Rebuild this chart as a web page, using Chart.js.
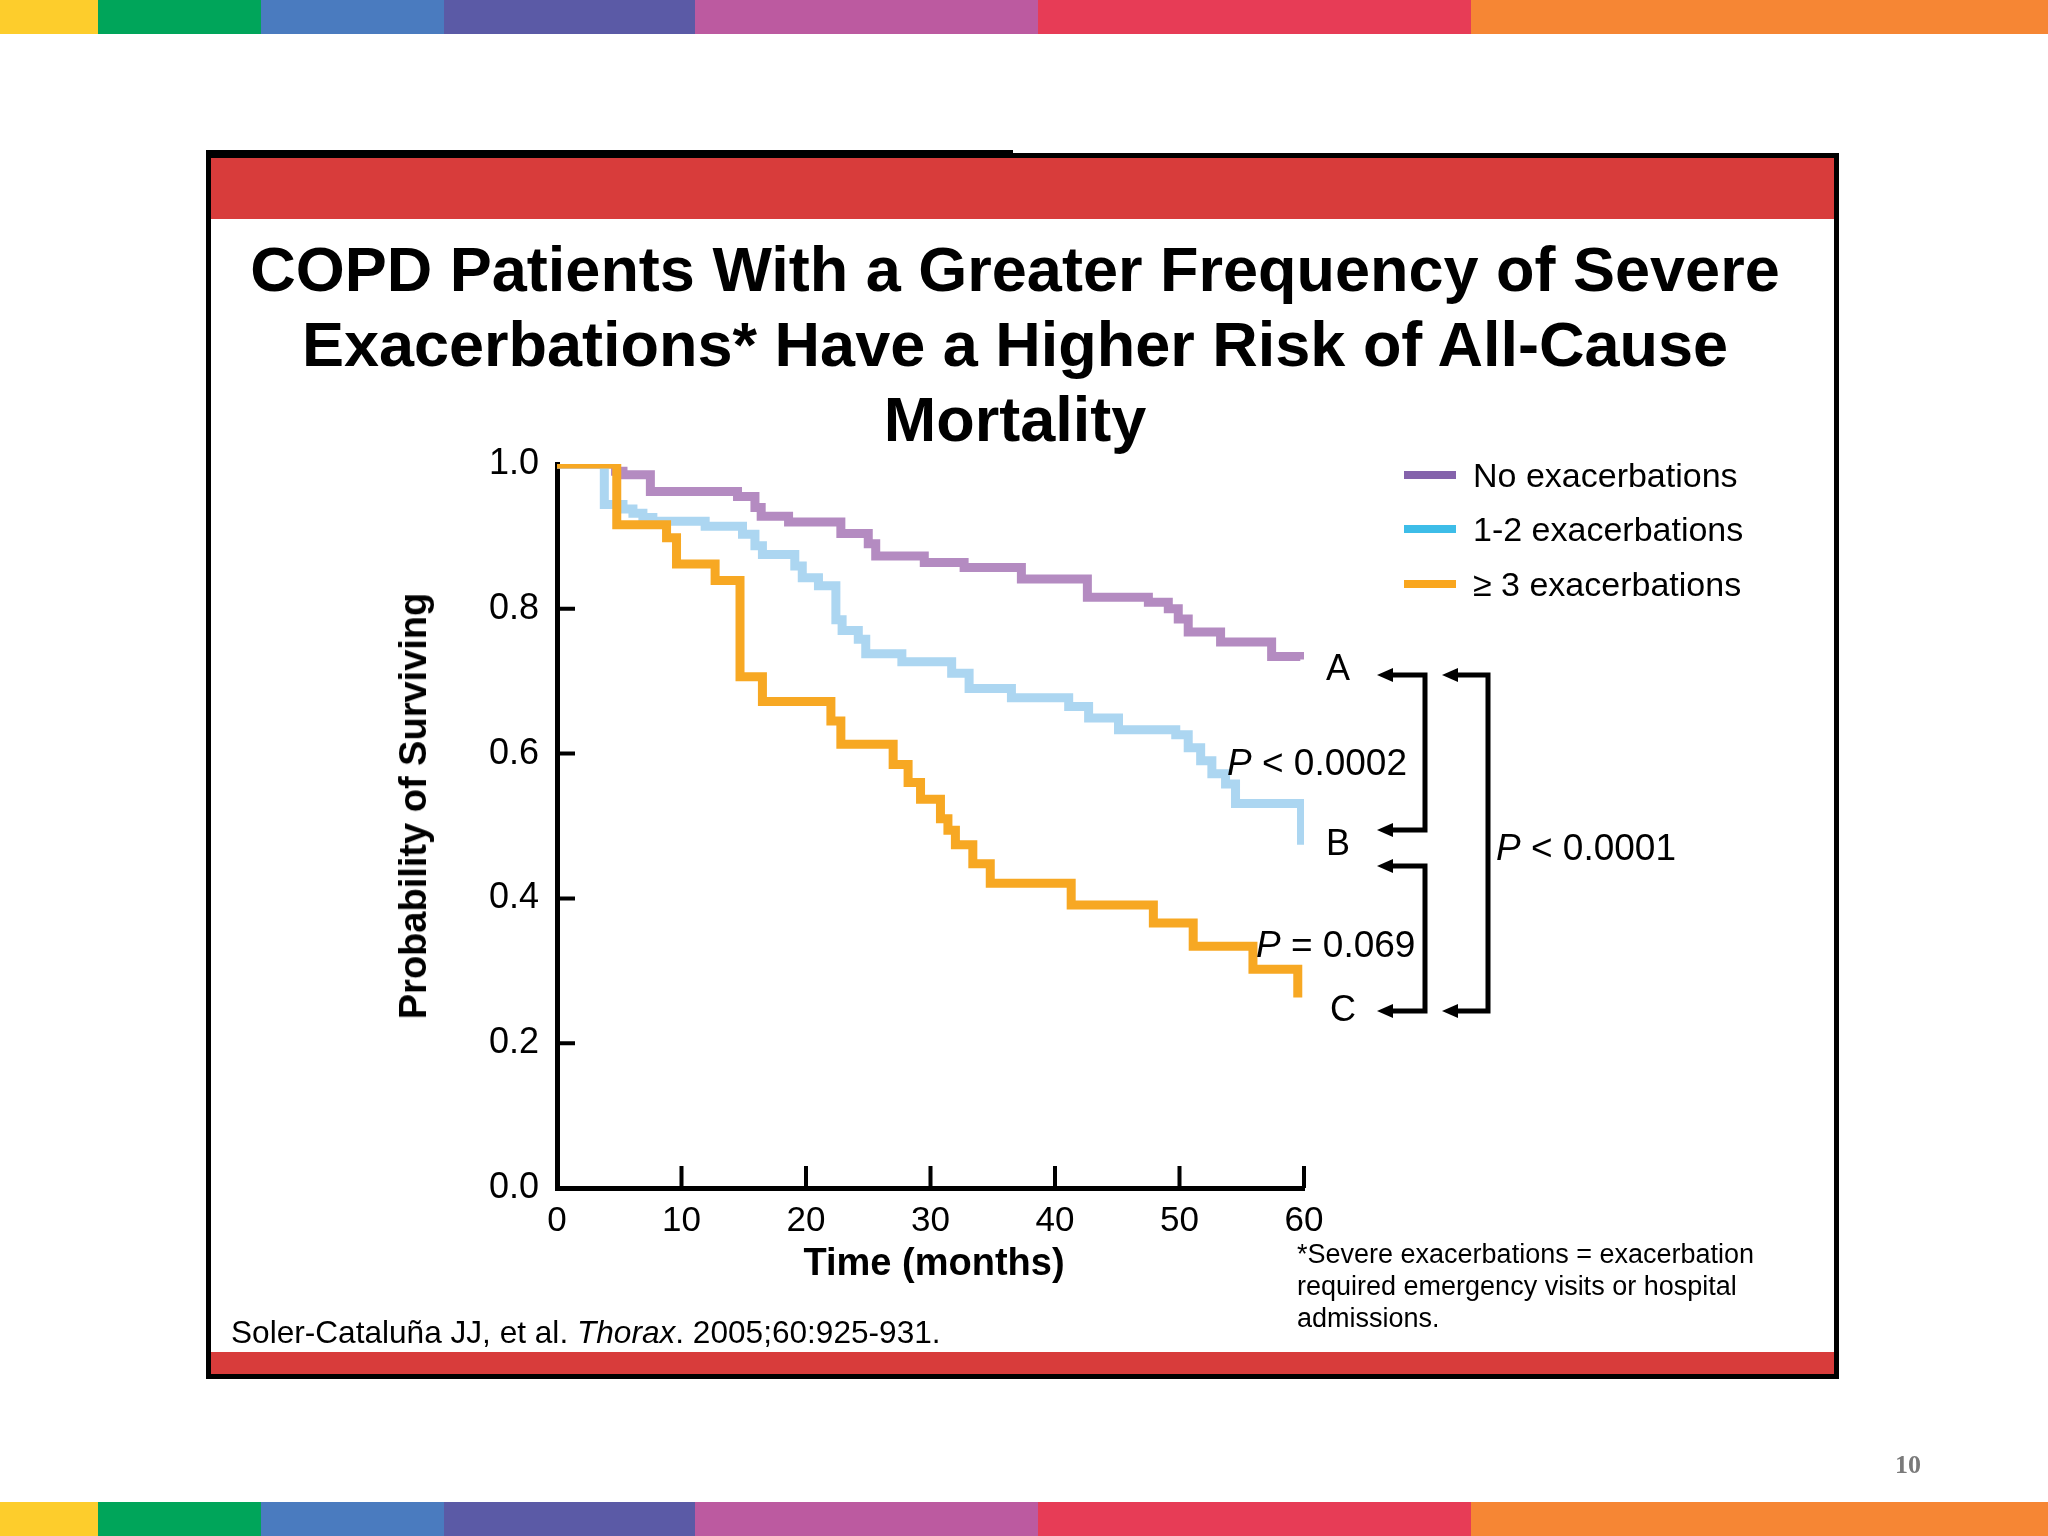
<!DOCTYPE html>
<html>
<head>
<meta charset="utf-8">
<script src="https://cdn.jsdelivr.net/npm/chart.js@4.4.1/dist/chart.umd.min.js"></script>
<style>
  body { margin:0; width:2048px; height:1536px; position:relative; background:#fff; overflow:hidden;
         font-family:"Liberation Sans", Arial, sans-serif; color:#000; }
  .strip { position:absolute; left:0; width:2048px; height:34px; }
  .strip div { position:absolute; top:0; height:34px; }
  #frame { position:absolute; left:206px; top:153px; width:1623px; height:1216px; border:5px solid #000; }
  .redbar { position:absolute; left:211px; width:1623px; background:#d83c3b; }
  #chart { position:absolute; left:0; top:0; }
  .txt { position:absolute; white-space:nowrap; }
  #title { left:200px; top:232px; width:1630px; text-align:center; font-weight:bold; font-size:63px; line-height:75px; }
  #ytitle { left:413px; top:806px; font-weight:bold; font-size:38px; line-height:44px; transform:translate(-50%,-50%) rotate(-90deg); }
  #xtitle { left:934px; top:1262px; font-weight:bold; font-size:38px; line-height:44px; transform:translate(-50%,-50%); }
  .leg { position:absolute; left:1404px; width:52px; height:8px; }
  .legt { position:absolute; left:1473px; font-size:34px; line-height:40px; white-space:nowrap; }
  .lab { font-size:36px; line-height:40px; transform:translate(-50%,-50%); }
  .pv { font-size:37px; line-height:42px; transform:translateY(-50%); }
  #foot { left:1297px; top:1238px; font-size:27px; line-height:32px; }
  #cite { left:231px; top:1314px; font-size:31.6px; line-height:36px; }
  #pg { left:1908px; top:1465px; font-family:"Liberation Serif", serif; font-weight:bold; font-size:26px; color:#7a7a7a; transform:translate(-50%,-50%); }
</style>
</head>
<body>
<div class="strip" style="top:0">
  <div style="left:0;width:98px;background:#fdcd2c"></div>
  <div style="left:98px;width:163px;background:#00a55a"></div>
  <div style="left:261px;width:183px;background:#4a7bbf"></div>
  <div style="left:444px;width:251px;background:#5b5aa6"></div>
  <div style="left:695px;width:343px;background:#bc5aa0"></div>
  <div style="left:1038px;width:433px;background:#e73c56"></div>
  <div style="left:1471px;width:577px;background:#f68634"></div>
</div>
<div class="strip" style="top:1502px">
  <div style="left:0;width:98px;background:#fdcd2c"></div>
  <div style="left:98px;width:163px;background:#00a55a"></div>
  <div style="left:261px;width:183px;background:#4a7bbf"></div>
  <div style="left:444px;width:251px;background:#5b5aa6"></div>
  <div style="left:695px;width:343px;background:#bc5aa0"></div>
  <div style="left:1038px;width:433px;background:#e73c56"></div>
  <div style="left:1471px;width:577px;background:#f68634"></div>
</div>

<div id="frame"></div>
<div style="position:absolute;left:206px;top:150px;width:807px;height:4px;background:#000"></div>
<div class="redbar" style="top:158px;height:61px"></div>
<div class="redbar" style="top:1352px;height:22px"></div>

<canvas id="chart" width="2048" height="1536"></canvas>

<div id="title" class="txt">COPD Patients With a Greater Frequency of Severe<br>Exacerbations* Have a Higher Risk of All-Cause<br>Mortality</div>
<div id="ytitle" class="txt">Probability of Surviving</div>
<div id="xtitle" class="txt">Time (months)</div>

<div class="leg" style="top:471px;background:#8462ab"></div>
<div class="legt" style="top:455px">No exacerbations</div>
<div class="leg" style="top:525px;background:#3dbde8"></div>
<div class="legt" style="top:509px">1-2 exacerbations</div>
<div class="leg" style="top:580px;background:#f9a61e"></div>
<div class="legt" style="top:564px">≥ 3 exacerbations</div>

<svg style="position:absolute;left:0;top:0" width="2048" height="1536">
  <g fill="none" stroke="#000" stroke-width="5">
    <path d="M1390 675 H1425 V830 H1390"/>
    <path d="M1390 866 H1425 V1011 H1390"/>
    <path d="M1455 675 H1488 V1011 H1455"/>
  </g>
  <g fill="#000">
    <polygon points="1377,675 1393,668 1393,682"/>
    <polygon points="1377,830 1393,823 1393,837"/>
    <polygon points="1377,866 1393,859 1393,873"/>
    <polygon points="1377,1011 1393,1004 1393,1018"/>
    <polygon points="1442,675 1458,668 1458,682"/>
    <polygon points="1442,1011 1458,1004 1458,1018"/>
  </g>
</svg>

<div class="txt lab" style="left:1338px;top:668px">A</div>
<div class="txt lab" style="left:1338px;top:843px">B</div>
<div class="txt lab" style="left:1343px;top:1009px">C</div>
<div class="txt pv" style="left:1227px;top:763px"><i>P</i> &lt; 0.0002</div>
<div class="txt pv" style="left:1256px;top:945px"><i>P</i> = 0.069</div>
<div class="txt pv" style="left:1496px;top:848px"><i>P</i> &lt; 0.0001</div>

<div id="foot" class="txt">*Severe exacerbations = exacerbation<br>required emergency visits or hospital<br>admissions.</div>
<div id="cite" class="txt">Soler-Cataluña JJ, et al. <i>Thorax</i>. 2005;60:925-931.</div>
<div id="pg" class="txt">10</div>

<script>
// Kaplan-Meier curves (months, probability)
var noExacMonths = [0, 4.7, 5.3, 7.5, 14.5, 15.9, 16.4, 18.6, 22.8, 25.0, 25.6, 29.5, 32.7, 37.3, 42.6, 47.5, 49.1, 49.9, 50.7, 53.3, 57.4, 59.7];
var noExacSurv   = [1.0, 0.99, 0.985, 0.962, 0.955, 0.94, 0.928, 0.92, 0.904, 0.89, 0.873, 0.864, 0.857, 0.841, 0.816, 0.809, 0.80, 0.786, 0.768, 0.754, 0.734, 0.73];

var oneTwoMonths = [0, 3.8, 5.3, 6.1, 6.9, 7.7, 11.9, 14.9, 15.9, 16.5, 19.1, 19.7, 21.0, 22.4, 22.9, 24.2, 24.8, 27.7, 31.7, 33.1, 36.5, 41.1, 42.7, 45.1, 49.7, 50.7, 51.7, 52.6, 53.7, 54.5, 59.8];
var oneTwoSurv   = [1.0, 0.944, 0.938, 0.932, 0.926, 0.921, 0.914, 0.903, 0.887, 0.875, 0.859, 0.843, 0.832, 0.785, 0.77, 0.758, 0.738, 0.727, 0.711, 0.69, 0.677, 0.665, 0.649, 0.633, 0.626, 0.608, 0.59, 0.572, 0.558, 0.531, 0.474];

var threeMonths = [0, 4.8, 8.8, 9.6, 12.7, 14.7, 16.5, 22.0, 22.8, 27.0, 28.2, 29.2, 30.8, 31.4, 32.0, 33.4, 34.8, 41.3, 47.9, 51.1, 55.9, 59.5];
var threeSurv   = [1.0, 0.916, 0.898, 0.862, 0.839, 0.706, 0.672, 0.645, 0.613, 0.585, 0.56, 0.537, 0.51, 0.494, 0.474, 0.448, 0.421, 0.391, 0.366, 0.334, 0.302, 0.263];

var xTicks = [0, 10, 20, 30, 40, 50, 60];
var yTicks = [0, 0.2, 0.4, 0.6, 0.8, 1.0];

var seriesNames = ['No exacerbations', '1-2 exacerbations', '≥ 3 exacerbations'];

function pts(xs, ys) {
  var out = [];
  for (var i = 0; i < xs.length; i++) out.push({x: xs[i], y: ys[i]});
  return out;
}

var fontFam = '"Liberation Sans", Arial, sans-serif';

// inward tick marks like the original figure
var innerTicks = {
  id: 'innerTicks',
  beforeDatasetsDraw: function(chart) {
    var ctx = chart.ctx, a = chart.chartArea;
    var xs = chart.scales.x, ys = chart.scales.y;
    ctx.save();
    ctx.strokeStyle = '#000';
    ctx.lineWidth = 4;
    ctx.beginPath();
    xTicks.forEach(function(v) {
      if (v === 0) return;
      var px = xs.getPixelForValue(v);
      ctx.moveTo(px, a.bottom);
      ctx.lineTo(px, a.bottom - 22);
    });
    yTicks.forEach(function(v) {
      if (v === 0 || v === 1) return;
      var py = ys.getPixelForValue(v);
      ctx.moveTo(a.left, py);
      ctx.lineTo(a.left + 18, py);
    });
    ctx.stroke();
    ctx.restore();
  }
};

var common = { pointRadius: 0, borderWidth: 9, stepped: true, fill: false,
               borderJoinStyle: 'miter', borderCapStyle: 'butt', tension: 0 };

new Chart(document.getElementById('chart'), {
  type: 'line',
  data: {
    datasets: [
      Object.assign({ label: seriesNames[0], data: pts(noExacMonths, noExacSurv), borderColor: '#b48bc1', order: 2 }, common),
      Object.assign({ label: seriesNames[1], data: pts(oneTwoMonths, oneTwoSurv), borderColor: '#acd6f1', order: 1 }, common),
      Object.assign({ label: seriesNames[2], data: pts(threeMonths, threeSurv), borderColor: '#f7a823', order: 0 }, common)
    ]
  },
  options: {
    responsive: false,
    animation: false,
    devicePixelRatio: 1,
    layout: { padding: { left: 0, top: 464, right: 744, bottom: 288 } },
    plugins: { legend: { display: false }, tooltip: { enabled: false } },
    scales: {
      x: {
        type: 'linear', min: 0, max: 60,
        afterFit: function(s) { s.height = 60; },
        afterBuildTicks: function(s) { s.ticks = xTicks.map(function(v) { return {value: v}; }); },
        grid: { display: false, drawTicks: false },
        border: { display: true, color: '#000', width: 5 },
        ticks: { font: { family: fontFam, size: 35 }, color: '#000', padding: 12, maxRotation: 0 }
      },
      y: {
        type: 'linear', min: 0, max: 1,
        afterFit: function(s) { s.width = 557; },
        afterBuildTicks: function(s) { s.ticks = yTicks.map(function(v) { return {value: v}; }); },
        grid: { display: false, drawTicks: false },
        border: { display: true, color: '#000', width: 5 },
        ticks: { font: { family: fontFam, size: 36 }, color: '#000', padding: 18,
                 callback: function(v) { return Number(v).toFixed(1); } }
      }
    }
  },
  plugins: [innerTicks]
});
</script>
</body>
</html>
